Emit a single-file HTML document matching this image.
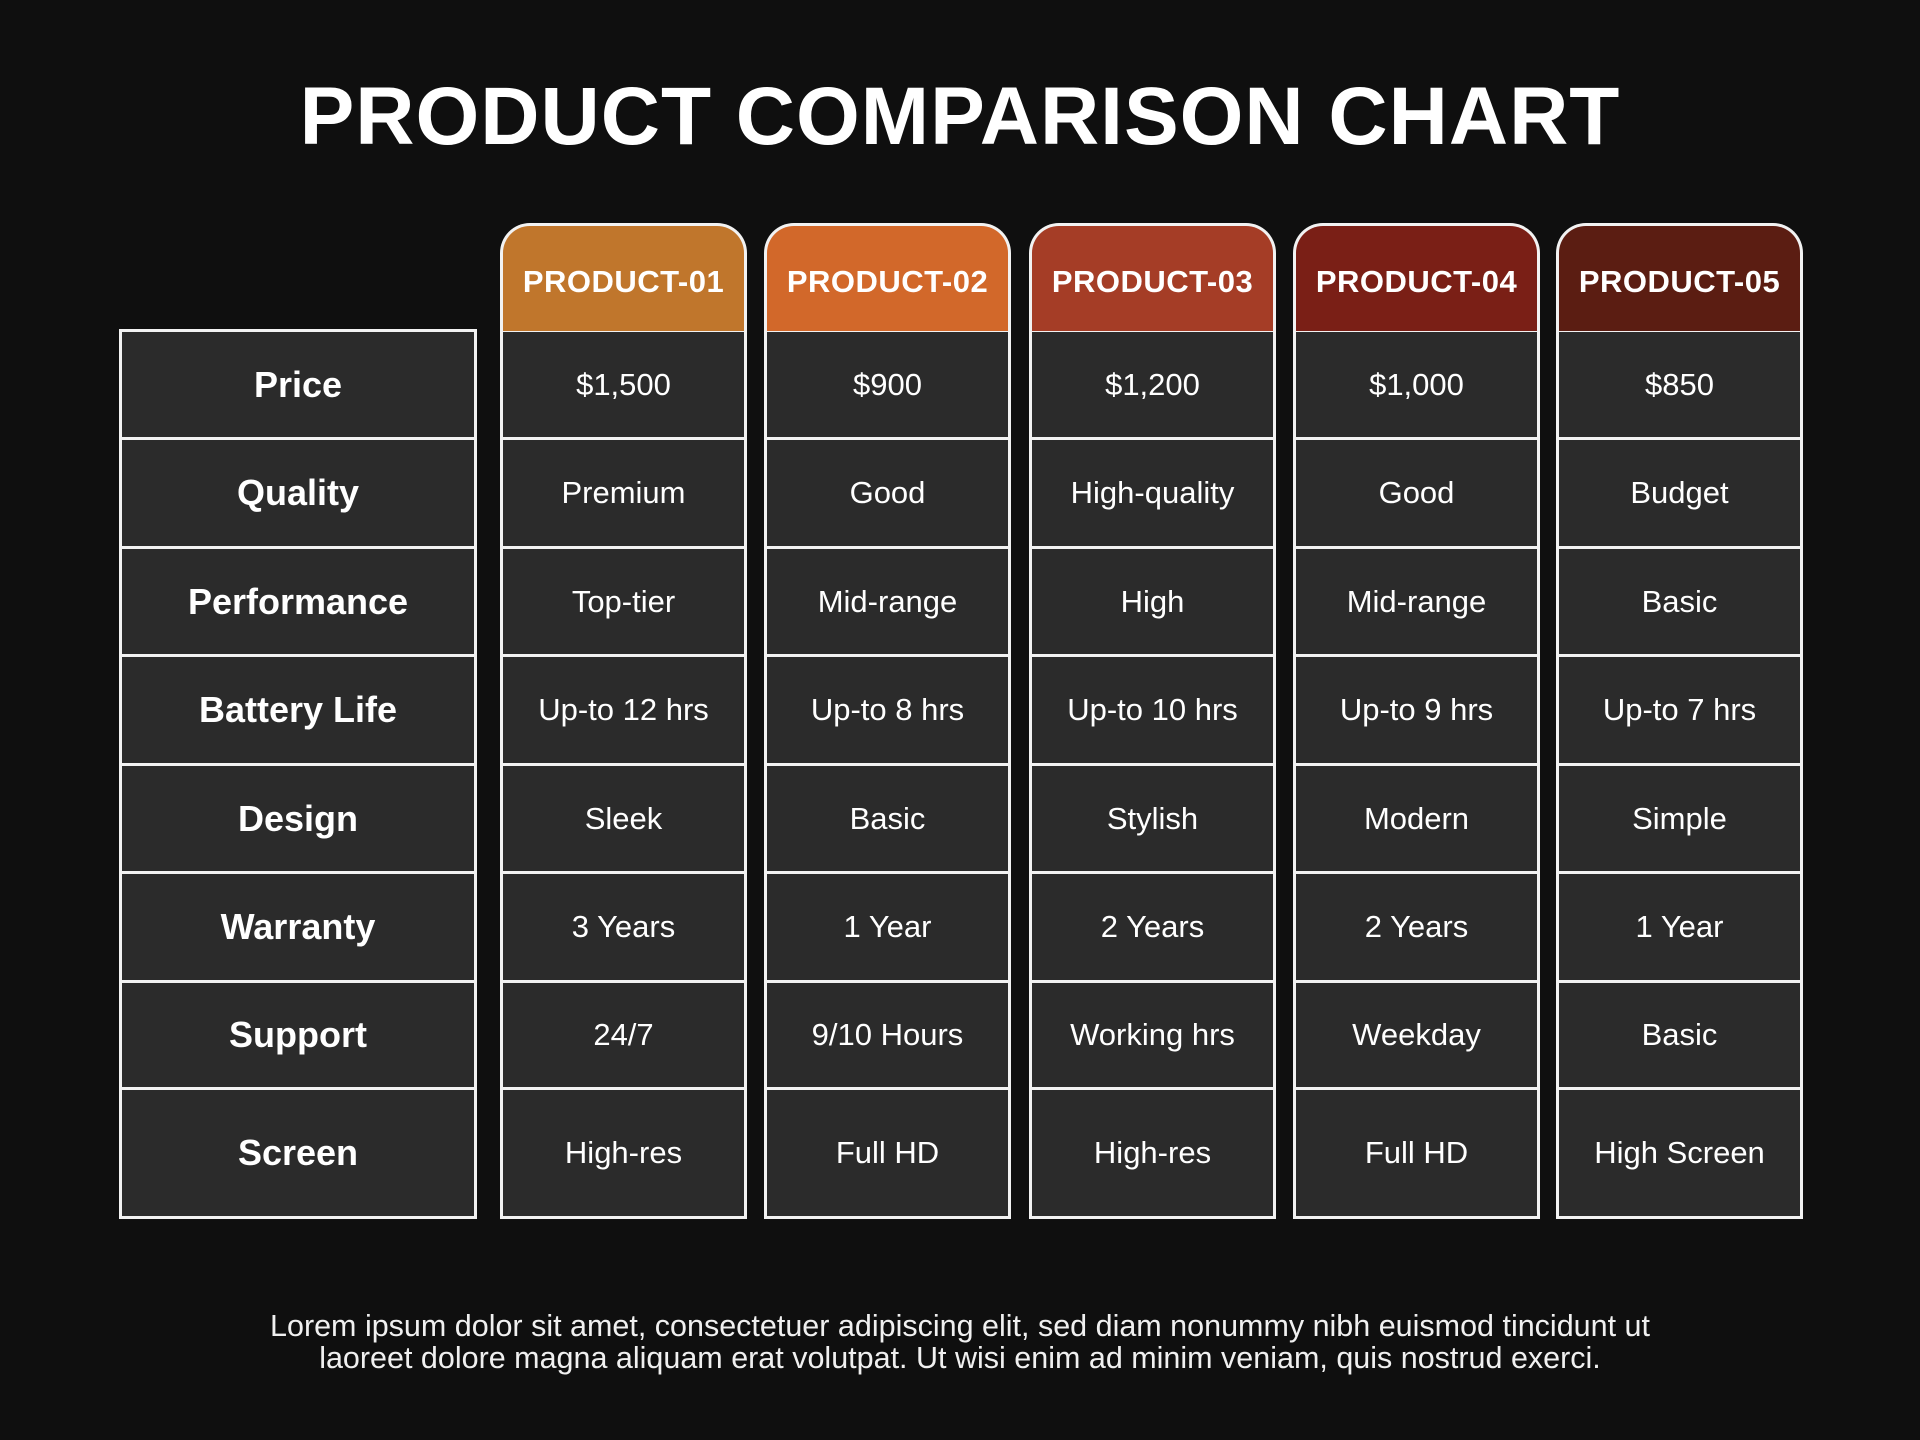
<!DOCTYPE html>
<html><head><meta charset="utf-8"><style>
*{margin:0;padding:0;box-sizing:border-box}
body{width:1920px;height:1440px;background:#0f0f0f;position:relative;overflow:hidden;font-family:"Liberation Sans",sans-serif;color:#fff}
.title{position:absolute;top:70px;left:0;width:1920px;text-align:center;font-size:82px;font-weight:bold;letter-spacing:1px}
.cell{position:absolute;background:#2b2b2b;border:3px solid #f2f2f2;display:flex;align-items:center;justify-content:center;font-size:31px;text-align:center}
.lab{font-weight:bold;font-size:36px}
.hd{position:absolute;border:3px solid #f2f2f2;border-bottom:none;border-radius:30px 30px 0 0;display:flex;align-items:center;justify-content:center;font-weight:bold;font-size:31px;letter-spacing:0.5px;padding-top:6px}
.foot{position:absolute;top:1310px;left:0;width:1920px;text-align:center;font-size:30.5px;line-height:32px;color:#f0f0f0}
</style></head><body>
<div class="title">PRODUCT COMPARISON CHART</div>
<div id="t"></div>
<div class="foot">Lorem ipsum dolor sit amet, consectetuer adipiscing elit, sed diam nonummy nibh euismod tincidunt ut<br>laoreet dolore magna aliquam erat volutpat. Ut wisi enim ad minim veniam, quis nostrud exerci.</div>
<script>
var rows=[329,437,546,654,763,871,980,1087,1216];
var labels=["Price","Quality","Performance","Battery Life","Design","Warranty","Support","Screen"];
var cols=[500,764,1029,1293,1556];
var hc=["#c0762c","#d2682a","#a53d26","#7a1f16","#5b1d12"];
var data=[["$1,500","Premium","Top-tier","Up-to 12 hrs","Sleek","3 Years","24/7","High-res"],
["$900","Good","Mid-range","Up-to 8 hrs","Basic","1 Year","9/10 Hours","Full HD"],
["$1,200","High-quality","High","Up-to 10 hrs","Stylish","2 Years","Working hrs","High-res"],
["$1,000","Good","Mid-range","Up-to 9 hrs","Modern","2 Years","Weekday","Full HD"],
["$850","Budget","Basic","Up-to 7 hrs","Simple","1 Year","Basic","High Screen"]];
var h="";
for(var r=0;r<8;r++){
 var y=rows[r],hh=rows[r+1]-rows[r]+3;
 h+='<div class="cell lab" style="left:119px;top:'+y+'px;width:358px;height:'+hh+'px">'+labels[r]+'</div>';
 for(var c=0;c<5;c++)h+='<div class="cell" style="left:'+cols[c]+'px;top:'+y+'px;width:247px;height:'+hh+'px">'+data[c][r]+'</div>';
}
for(var c=0;c<5;c++)h+='<div class="hd" style="left:'+cols[c]+'px;top:223px;width:247px;height:108px;background:'+hc[c]+'">PRODUCT-0'+(c+1)+'</div>';
document.getElementById("t").innerHTML=h;
</script>
</body></html>
